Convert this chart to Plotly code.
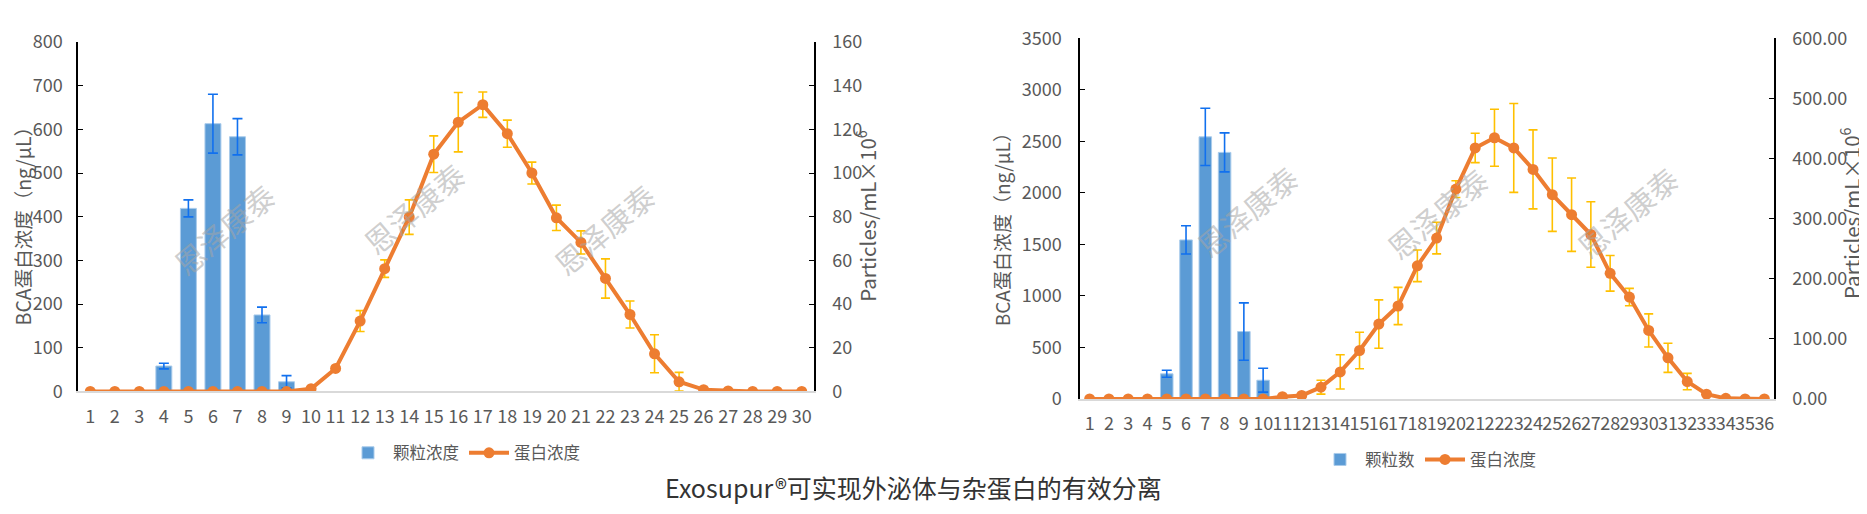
import plotly.graph_objects as go

# ---------------- data ----------------
cats_left = [str(i) for i in range(1, 31)]
particles_left = [0, 0, 0, 58, 419, 613, 583, 175, 22, 0,
                  0, 0, 0, 0, 0, 0, 0, 0, 0, 0,
                  0, 0, 0, 0, 0, 0, 0, 0, 0, 0]
particles_left_err = [0, 0, 0, 6.5, 19.5, 67.5, 41.5, 18, 14, 0,
                      0, 0, 0, 0, 0, 0, 0, 0, 0, 0,
                      0, 0, 0, 0, 0, 0, 0, 0, 0, 0]
protein_left = [0, 0, 0, 0, 0, 0, 0, 0, 0, 1.2,
                10.5, 32.2, 56.2, 79.8, 108.6, 123.3, 131.3, 118, 100, 79.5,
                68.2, 51.7, 35.2, 17.2, 4.4, 0.8, 0.2, 0, 0, 0]
protein_left_err = [0, 0, 0, 0, 0, 0, 0, 0, 0, 0,
                    1, 4.8, 4, 7.9, 8.4, 13.6, 5.8, 6.2, 5, 5.8,
                    5.3, 9, 6.2, 8.7, 4.3, 0.5, 0, 0, 0, 0]

cats_right = [str(i) for i in range(1, 37)]
particles_right = [0, 0, 0, 0, 244, 1543, 2543, 2392, 654, 182,
                   0, 0, 0, 0, 0, 0, 0, 0, 0, 0,
                   0, 0, 0, 0, 0, 0, 0, 0, 0, 0,
                   0, 0, 0, 0, 0, 0]
particles_right_err = [0, 0, 0, 0, 34, 137, 278, 189, 278, 116,
                       0, 0, 0, 0, 0, 0, 0, 0, 0, 0,
                       0, 0, 0, 0, 0, 0, 0, 0, 0, 0,
                       0, 0, 0, 0, 0, 0]
protein_right = [0, 0, 0, 0, 0, 0, 0, 0, 0, 0,
                 3.7, 5.8, 19.6, 45, 80.6, 124.6, 154.6, 221.4, 267.6, 349,
                 417.5, 434.4, 417.5, 381.8, 339.7, 306.5, 273.5, 209, 169.5, 114,
                 68.4, 29, 7.9, 1, 0, 0]
protein_right_err = [0, 0, 0, 0, 0, 0, 0, 0, 0, 0,
                     0, 0, 11.5, 28.5, 30.4, 40.2, 31, 26.3, 26.3, 13.9,
                     24.5, 47.3, 74, 65.7, 61, 61, 54.5, 29.7, 14.5, 27.5,
                     24.2, 13.6, 0, 0, 0, 0]

legend_left = ["颗粒浓度", "蛋白浓度"]
legend_right = ["颗粒数", "蛋白浓度"]
y_title_left = "BCA蛋白浓度（ng/μL）"
y_title_right = "Particles/mL×10<sup>6</sup>"
main_title = "Exosupur®可实现外泌体与杂蛋白的有效分离"
watermark = "恩泽康泰"

# ---------------- style ----------------
W, H = 1867, 514
FONT = "Noto Sans CJK SC"
GRAY = "#595959"
BAR_C = "#5B9BD5"
BAR_ERR = "#1170EE"
LINE_C = "#ED7D31"
LINE_ERR = "#FFC000"

fig = go.Figure()


def add_pair(cats, bars, bars_err, line, line_err, names, xa, ya_l, ya_r, legend):
    # only non-empty bars are drawn (empty ones have no visible bar / error bar)
    idx = [i for i, v in enumerate(bars) if v > 0]
    fig.add_trace(go.Bar(
        x=[cats[i] for i in idx], y=[bars[i] for i in idx],
        name=names[0], xaxis=xa, yaxis=ya_l, legend=legend,
        marker=dict(color=BAR_C, line=dict(color="#A9CBEB", width=1)),
        width=0.65,
        error_y=dict(type="data", array=[bars_err[i] for i in idx],
                     color=BAR_ERR, thickness=1.6, width=5),
    ))
    fig.add_trace(go.Scatter(
        x=cats, y=line, name=names[1], xaxis=xa, yaxis=ya_r, legend=legend,
        mode="lines+markers",
        line=dict(color=LINE_C, width=4),
        marker=dict(color=LINE_C, size=11),
        error_y=dict(type="data", array=line_err, color=LINE_ERR, thickness=1.6, width=4.5),
    ))


add_pair(cats_left, particles_left, particles_left_err, protein_left, protein_left_err,
         legend_left, "x", "y", "y2", "legend")
add_pair(cats_right, particles_right, particles_right_err, protein_right, protein_right_err,
         legend_right, "x2", "y3", "y4", "legend2")

tickfont = dict(family=FONT, size=18, color=GRAY)


def xaxis(domain, cats, anchor):
    return dict(domain=domain, anchor=anchor, type="category",
                categoryorder="array", categoryarray=cats,
                tickmode="array", tickvals=cats, ticktext=cats,
                range=[-0.5, len(cats) - 0.5], showline=True, linecolor="#D9D9D9", linewidth=1.5,
                showgrid=False, zeroline=False, ticks="outside", ticklen=8,
                tickcolor="rgba(0,0,0,0)", tickfont=tickfont, tickangle=0, fixedrange=True)


def yaxis(domain, rng, dtick, anchor, side, overlaying=None, fmt=None, standoff=13):
    d = dict(range=rng, dtick=dtick, tick0=0, anchor=anchor, side=side,
             showline=True, linecolor="black", linewidth=1.5,
             ticks="inside", ticklen=5, tickcolor="black", tickwidth=1.2,
             ticklabelstandoff=standoff,
             showgrid=False, zeroline=False, tickfont=tickfont)
    if overlaying:
        d["overlaying"] = overlaying
    else:
        d["domain"] = domain
    if fmt:
        d["tickformat"] = fmt
    return d


xl = [70 / W, 806 / W]
xr = [1072 / W, 1766 / W]
yl = [1 - 388 / H, 1 - 20 / H]
yr = [1 - 396 / H, 1 - 16 / H]

fig.update_layout(
    width=W, height=H,
    margin=dict(l=0, r=0, t=0, b=0),
    paper_bgcolor="white", plot_bgcolor="white",
    font=dict(family=FONT, color=GRAY),
    xaxis=xaxis(xl, cats_left, "y"),
    yaxis=yaxis(yl, [0, 800], 100, "x", "left", standoff=10),
    yaxis2=yaxis(None, [0, 160], 20, "x", "right", overlaying="y"),
    xaxis2=xaxis(xr, cats_right, "y3"),
    yaxis3=yaxis(yr, [0, 3500], 500, "x2", "left"),
    yaxis4=yaxis(None, [0, 600], 100, "x2", "right", overlaying="y3", fmt=".2f"),
    legend=dict(orientation="h", x=456 / W, y=1 - 453 / H, xanchor="center", yanchor="middle",
                font=dict(family=FONT, size=16.5, color=GRAY), bgcolor="rgba(0,0,0,0)",
                itemwidth=40),
    legend2=dict(orientation="h", x=1420 / W, y=1 - 460 / H, xanchor="center", yanchor="middle",
                 font=dict(family=FONT, size=16.5, color=GRAY), bgcolor="rgba(0,0,0,0)",
                 itemwidth=40),
    showlegend=True,
)

# axis titles (placed as rotated annotations)
for (txt, px, py, fs) in [(y_title_left, 14, 209, 19.5), (y_title_right, 858, 203, 20.5),
                          (y_title_left, 993, 212, 19), (y_title_right, 1842, 200, 20.5)]:
    fig.add_annotation(text=txt, xref="paper", yref="paper", x=px / W, y=1 - py / H,
                       showarrow=False, textangle=-90,
                       font=dict(family=FONT, size=fs, color=GRAY),
                       xanchor="center", yanchor="middle")

# main caption
fig.add_annotation(text=main_title, xref="paper", yref="paper", x=905 / W, y=1 - 489 / H,
                   showarrow=False, font=dict(family=FONT, size=25, color="#333333"),
                   xanchor="center", yanchor="middle")

# watermarks
for (px, py) in [(216, 217), (406, 195), (596, 217), (1239, 198), (1429, 200), (1619, 199)]:
    fig.add_annotation(text=watermark, xref="paper", yref="paper", x=px / W, y=1 - py / H,
                       showarrow=False, textangle=-40,
                       font=dict(family=FONT, size=30, color="rgba(165,165,165,0.55)"),
                       xanchor="center", yanchor="middle")

fig.write_html("out.html")
